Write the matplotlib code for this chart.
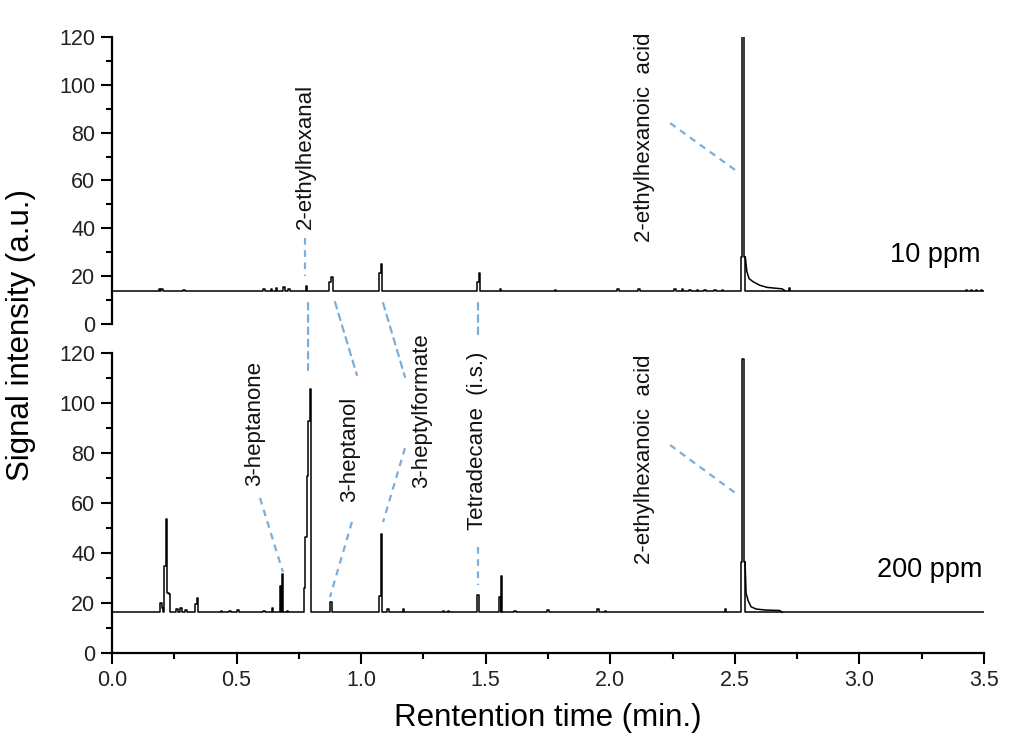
"""
GC chromatograms of the 10 ppm and 200 ppm samples, stacked,
with the peak assignments drawn as dashed guide lines.
"""
import matplotlib
matplotlib.use("Agg")
import matplotlib.pyplot as plt
from matplotlib.patches import ConnectionPatch
from matplotlib.ticker import MultipleLocator

plt.rcParams["font.family"] = ["Liberation Sans", "DejaVu Sans"]

# --- 10 ppm trace (retention time in min, signal in a.u.) ---
base_10 = 14.0
rt_10 = [0.19, 0.20, 0.29, 0.61, 0.64, 0.66, 0.69, 0.71, 0.78, 0.876, 0.882,
         1.076, 1.082, 1.469, 1.475, 1.56, 1.78, 2.03, 2.115, 2.26, 2.29, 2.32,
         2.35, 2.38, 2.42, 2.45, 2.527, 2.533, 2.539, 2.72, 3.43, 3.45, 3.47, 3.49]
h_10 = [14.6, 14.5, 14.4, 14.5, 14.8, 15.2, 15.6, 14.8, 15.8, 17.5, 19.5,
        21.5, 25.0, 17.5, 21.3, 14.6, 14.4, 14.5, 14.5, 14.5, 14.5, 14.4,
        14.4, 14.4, 14.3, 14.3, 28.0, 130.0, 28.0, 15.0, 14.3, 14.3, 14.3, 14.3]
tail_t_10 = [2.542, 2.548, 2.557, 2.573, 2.60, 2.63, 2.69, 2.70]
tail_y_10 = [28.0, 22.0, 19.0, 17.7, 16.2, 15.3, 14.7, 14.0]

# --- 200 ppm trace ---
base_200 = 16.3
rt_200 = [0.197, 0.203, 0.213, 0.219, 0.225, 0.231, 0.26, 0.277, 0.296, 0.336,
          0.342, 0.44, 0.474, 0.505, 0.61, 0.645, 0.677, 0.684, 0.705, 0.772,
          0.778, 0.784, 0.790, 0.796, 0.879, 1.076, 1.082, 1.108, 1.17, 1.33,
          1.35, 1.47, 1.557, 1.564, 1.617, 1.75, 1.95, 1.98, 2.463, 2.526,
          2.532, 2.538]
h_200 = [20.0, 18.0, 35.0, 53.5, 24.0, 23.5, 17.5, 18.0, 17.2, 19.5,
         22.1, 17.0, 17.0, 17.2, 17.0, 18.0, 27.0, 31.5, 17.0, 26.0,
         46.5, 71.0, 93.0, 105.5, 20.5, 23.0, 47.5, 17.5, 17.5, 17.0,
         17.0, 23.2, 22.5, 31.0, 17.0, 17.2, 17.5, 17.0, 17.5, 36.5,
         117.5, 36.5]
tail_t_200 = [2.541, 2.545, 2.553, 2.565, 2.585, 2.62, 2.68, 2.69]
tail_y_200 = [36.5, 24.0, 21.0, 18.5, 17.6, 17.2, 17.0, 16.3]

t_end = 3.5


def build_trace(base, rts, hs, end, hw=0.0032):
    """Turn a peak table into a step polyline (narrow spikes on a baseline)."""
    xs, ys = [0.0], [base]
    prev_right = None
    for i, (rt, h) in enumerate(zip(rts, hs)):
        left, right = rt - hw, rt + hw
        if prev_right is not None and left <= prev_right + 1e-9:
            left = prev_right          # staircase: step straight to the new level
            xs += [left]
            ys += [h]
        else:
            xs += [left, left]
            ys += [base, h]
        xs += [right]
        ys += [h]
        nxt = rts[i + 1] - hw if i + 1 < len(rts) else None
        if nxt is None or nxt > right + 1e-9:
            xs += [right]
            ys += [base]
        prev_right = right
    xs += [end]
    ys += [base]
    return xs, ys


fig = plt.figure(figsize=(10.2, 7.53), dpi=100)
ax_top = fig.add_axes([0.1098, 0.5697, 0.8549, 0.3812])
ax_bot = fig.add_axes([0.1098, 0.1328, 0.8549, 0.3984])

lw_line = 1.1
x10, y10 = build_trace(base_10, rt_10, h_10, t_end)
ax_top.plot(x10, y10, color="black", lw=lw_line)
ax_top.plot(tail_t_10, tail_y_10, color="black", lw=lw_line)
x200, y200 = build_trace(base_200, rt_200, h_200, t_end)
ax_bot.plot(x200, y200, color="black", lw=lw_line)
ax_bot.plot(tail_t_200, tail_y_200, color="black", lw=lw_line)

for ax in (ax_top, ax_bot):
    ax.set_xlim(0, 3.5)
    ax.set_ylim(0, 120)
    ax.yaxis.set_major_locator(MultipleLocator(20))
    ax.yaxis.set_minor_locator(MultipleLocator(10))
    ax.xaxis.set_major_locator(MultipleLocator(0.5))
    ax.xaxis.set_minor_locator(MultipleLocator(0.25))
    for side in ("top", "right"):
        ax.spines[side].set_visible(False)
    ax.spines["left"].set_linewidth(1.6)
    ax.spines["bottom"].set_linewidth(1.6)
    ax.tick_params(axis="both", which="major", direction="out", length=8,
                   width=1.5, labelsize=15.5, pad=4, colors="black")
    ax.tick_params(axis="both", which="minor", direction="out", length=4.5,
                   width=1.5)
    for lab in ax.get_yticklabels():
        lab.set_color("#222222")

ax_top.spines["bottom"].set_visible(False)
ax_top.tick_params(axis="x", which="both", bottom=False, labelbottom=False)
ax_bot.set_xticklabels([f"{v:.1f}" for v in ax_bot.get_xticks()], color="#222222")
ax_bot.set_xlabel("Rentention time (min.)", fontsize=22.5, labelpad=9)
fig.text(0.021, 0.555, "Signal intensity (a.u.)", rotation=90, fontsize=22.5,
         ha="center", va="center")

# --- peak labels ---
lab_kw = dict(rotation=90, ha="center", va="center", fontsize=16, color="#111111")
ax_top.text(0.775, 70.2, "2-ethylhexanal", **lab_kw)
ax_top.text(2.139, 78.2, "2-ethylhexanoic  acid", **lab_kw)
ax_top.text(3.484, 28.8, "10 ppm", ha="right", va="center", fontsize=19.5)
ax_bot.text(2.139, 77.6, "2-ethylhexanoic  acid", **lab_kw)
ax_bot.text(0.574, 92.0, "3-heptanone", **lab_kw)
ax_bot.text(0.955, 81.6, "3-heptanol", **lab_kw)
ax_bot.text(1.244, 96.8, "3-heptylformate", **lab_kw)
ax_bot.text(1.469, 84.8, "Tetradecane  (i.s.)", **lab_kw)
ax_bot.text(3.492, 33.2, "200 ppm", ha="right", va="center", fontsize=19.5)

# --- dashed guide lines ---
guide = dict(color="#7aaedc", lw=1.6, linestyle=(0, (3, 2.5)))
ax_top.plot([0.775, 0.775], [36.0, 20.1], clip_on=False, **guide)
ax_top.plot([2.240, 2.513], [84.0, 63.5], **guide)
ax_bot.plot([2.240, 2.513], [83.2, 63.2], **guide)
ax_bot.plot([0.594, 0.686], [62.0, 32.4], **guide)
ax_bot.plot([0.963, 0.875], [52.4, 22.4], **guide)
ax_bot.plot([1.176, 1.088], [82.0, 52.4], **guide)
ax_bot.plot([1.469, 1.469], [42.4, 27.2], **guide)

# lines running from the 10 ppm peaks down to the 200 ppm labels
cross = [((0.787, 8.8), (0.787, 113.2)),
         ((0.895, 9.2), (0.983, 111.2)),
         ((1.088, 8.8), (1.176, 110.4)),
         ((1.469, 8.8), (1.469, 127.2))]
for (p_top, p_bot) in cross:
    con = ConnectionPatch(xyA=p_top, coordsA=ax_top.transData,
                          xyB=p_bot, coordsB=ax_bot.transData, **guide)
    fig.add_artist(con)

fig.savefig("out.png", dpi=100)
